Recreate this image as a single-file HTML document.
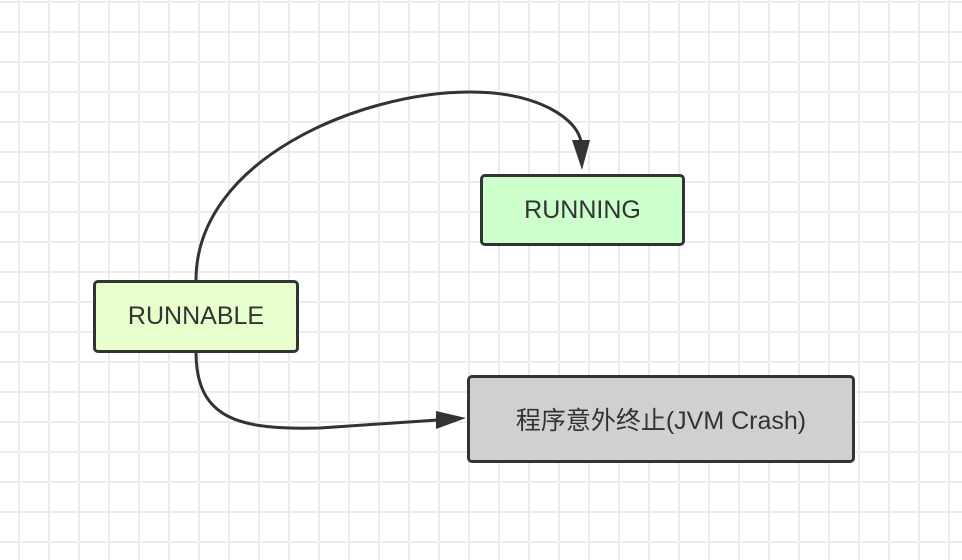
<!DOCTYPE html>
<html><head><meta charset="utf-8"><style>
html,body{margin:0;padding:0;}
body{width:962px;height:560px;overflow:hidden;background:#fff;position:relative;
background-image:
linear-gradient(to right,#ececec 2px,transparent 2px),
linear-gradient(to bottom,#ececec 2px,transparent 2px);
background-size:30px 30px;background-position:18px 1px;}
.box{position:absolute;box-sizing:border-box;border:3px solid #333;border-radius:5px;
display:flex;align-items:center;justify-content:center;
font-family:"Liberation Sans","Noto Sans CJK SC",sans-serif;font-size:25px;color:#333;}
svg{position:absolute;left:0;top:0;}
</style></head><body>
<svg width="962" height="560">
<path d="M196 280 C196 160,360 92,470 92 C540 92,578 120,581 142" fill="none" stroke="#333" stroke-width="3"/>
<polygon points="572,140 590,140 582,170" fill="#333"/>
<path d="M196 352 C196 420,240 430,320 428 L438 420" fill="none" stroke="#333" stroke-width="3"/>
<polygon points="436,411 436,429 466,418" fill="#333"/>
</svg>
<div class="box" style="left:480px;top:174px;width:205px;height:72px;background:#ccffcc;">RUNNING</div>
<div class="box" style="left:93px;top:280px;width:206px;height:73px;background:#e6ffcc;">RUNNABLE</div>
<div class="box" style="left:467px;top:375px;width:388px;height:88px;background:#d0d0d0;">程序意外终止(JVM Crash)</div>
</body></html>
